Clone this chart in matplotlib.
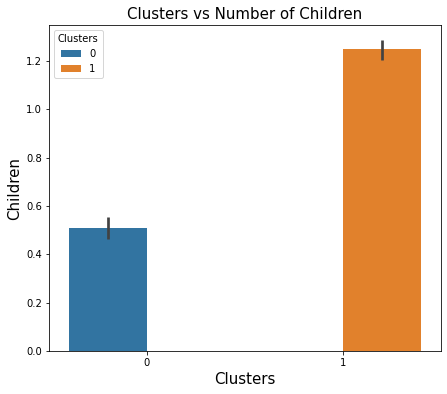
import numpy as np
import matplotlib
matplotlib.use("Agg")
import matplotlib.pyplot as plt

# values
clusters = ["0", "1"]
children_mean = [0.51, 1.248]
ci_low = [0.465, 1.205]
ci_high = [0.555, 1.288]
bar_colors = ["#3274a1", "#e1812c"]   # seaborn-desaturated tab10

fig = plt.figure(figsize=(447 / 72, 394 / 72), dpi=72)
ax = fig.add_axes([0.1096, 0.1091, 0.877, 0.8274])

width = 0.4
x = np.arange(len(clusters))
for i, c in enumerate(clusters):
    # hue == x, so each bar sits in its own dodge slot
    pos = x[i] - width / 2 + i * width
    ax.bar(pos, children_mean[i], width=width, color=bar_colors[i], label=c)
    ax.plot([pos, pos], [ci_low[i], ci_high[i]], color=".26", lw=2.7, solid_capstyle="butt")

ax.set_xticks(x)
ax.set_xticklabels(clusters)
ax.set_xlim(-0.5, 1.5)
ax.set_ylim(0, 1.349)
ax.set_yticks([0.0, 0.2, 0.4, 0.6, 0.8, 1.0, 1.2])

ax.set_title("Clusters vs Number of Children", fontsize=15)
ax.set_xlabel("Clusters", fontsize=15)
ax.set_ylabel("Children", fontsize=15)
ax.legend(title="Clusters", loc="upper left")

fig.savefig("out.png", dpi=72)
